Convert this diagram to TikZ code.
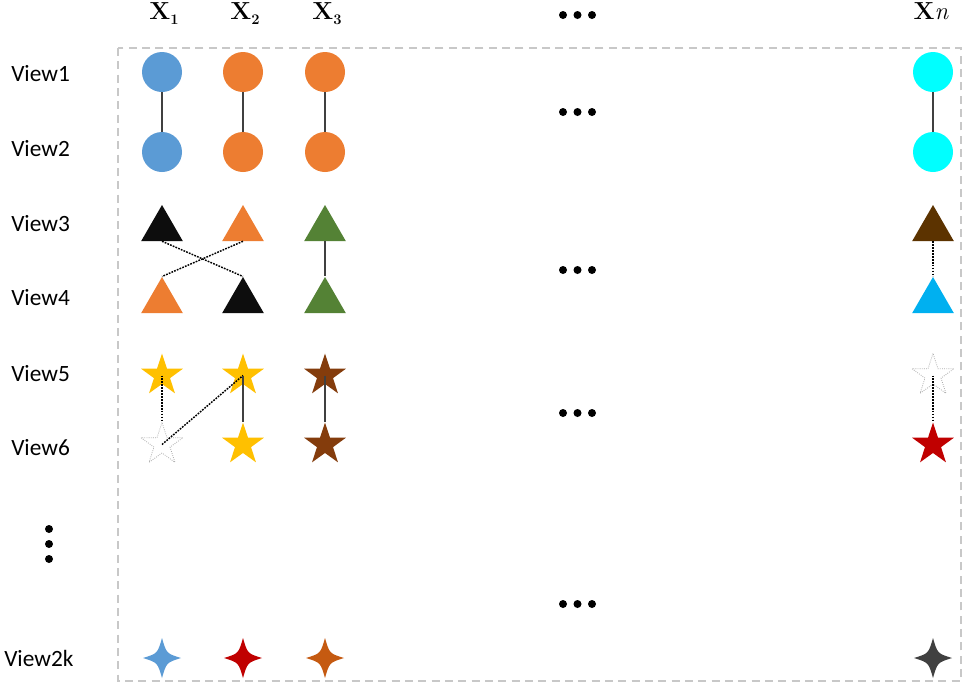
\documentclass[tikz,border=0pt]{standalone}
\usepackage{fontspec}
\newfontfamily\viewfont{Carlito}
\usetikzlibrary{shapes.geometric}
\definecolor{cblue}{HTML}{5B9BD5}
\definecolor{corange}{HTML}{ED7D31}
\definecolor{ccyan}{HTML}{00FFFF}
\definecolor{tblack}{HTML}{0D0D0D}
\definecolor{tgreen}{HTML}{548235}
\definecolor{tbrown}{HTML}{5C3300}
\definecolor{tblue}{HTML}{00B0F0}
\definecolor{syellow}{HTML}{FFC000}
\definecolor{sbrown}{HTML}{843C0C}
\definecolor{sred}{HTML}{C00000}
\definecolor{korange}{HTML}{C55A11}
\definecolor{kgray}{HTML}{404040}
\definecolor{boxgray}{HTML}{C8C8C8}
\newcommand{\hsub}[1]{\raisebox{-3.5pt}{\fontsize{11pt}{11pt}\selectfont #1}}
\tikzset{
  ball/.style={circle, minimum size=30pt, inner sep=0pt, draw=none, fill=#1},
  tri/.style={regular polygon, regular polygon sides=3, minimum size=36pt, inner sep=0pt, draw=none, fill=#1},
  starnode/.style={star, star points=5, star point ratio=2.6, minimum size=33pt, inner sep=0pt, draw=none, fill=#1},
  emptystar/.style={star, star points=5, star point ratio=2.6, minimum size=33pt, inner sep=0pt, draw=gray!65, densely dotted, line width=0.6pt, fill=white},
  solidlink/.style={draw=kgray, line width=0.9pt},
  dotlink/.style={draw=black, line width=1.1pt, dash pattern=on 1.3pt off 0.9pt},
  dotnode/.style={circle, minimum size=6pt, inner sep=0pt, fill=black},
  viewlabel/.style={anchor=base west, inner sep=0pt, font=\viewfont\fontsize{17.5pt}{20pt}\selectfont},
  hdr/.style={anchor=base, inner sep=0pt, font=\fontsize{18.5pt}{20pt}\selectfont\bfseries},
  boxline/.style={draw=boxgray, line width=1.2pt, dash pattern=on 6pt off 4pt},
  sparkle/.pic={\fill[#1] (0,-20) .. controls (4.5,-4.5) .. (19,0) .. controls (4.5,4.5) .. (0,20) .. controls (-4.5,4.5) .. (-19,0) .. controls (-4.5,-4.5) .. cycle;}
}
\begin{document}
\begin{tikzpicture}[x=0.75pt,y=-0.75pt]
\useasboundingbox (0,0) rectangle (967,690);
\fill[white] (0,0) rectangle (967,690);

% dashed frame
\draw[boxline] (118,48) rectangle (961,681);

% headers
\node[hdr] (h1) at (164,19.5) {X\hsub{1}};
\node[hdr] (h2) at (245,19.5) {X\hsub{2}};
\node[hdr] (h3) at (327,19.5) {X\hsub{3}};
\node[hdr] (hn) at (931,19.5) {X\mdseries\itshape n};

% top dots
\node[dotnode] (td1) at (563,15) {};
\node[dotnode] (td2) at (577.5,15) {};
\node[dotnode] (td3) at (592,15) {};

% view labels
\node[viewlabel] (v1) at (11,81.5) {View1};
\node[viewlabel] (v2) at (11,156.5) {View2};
\node[viewlabel] (v3) at (11,231) {View3};
\node[viewlabel] (v4) at (11,305) {View4};
\node[viewlabel] (v5) at (11,381) {View5};
\node[viewlabel] (v6) at (11,455) {View6};
\node[viewlabel] (v2k) at (4,666) {View2k};

% vertical dots
\node[dotnode] (vd1) at (49,529) {};
\node[dotnode] (vd2) at (49,544) {};
\node[dotnode] (vd3) at (49,559) {};

% row dots
\foreach \y/\n in {112/a,270/b,413/c,604/d}{
  \node[dotnode] (rd\n1) at (563,\y) {};
  \node[dotnode] (rd\n2) at (577.5,\y) {};
  \node[dotnode] (rd\n3) at (592,\y) {};
}

% circles
\node[ball=cblue] (c11) at (162,72) {};
\node[ball=corange] (c12) at (243,72) {};
\node[ball=corange] (c13) at (325,72) {};
\node[ball=ccyan] (c1n) at (933,72) {};
\node[ball=cblue] (c21) at (162,152) {};
\node[ball=corange] (c22) at (243,152) {};
\node[ball=corange] (c23) at (325,152) {};
\node[ball=ccyan] (c2n) at (933,152) {};
\draw[solidlink] (c11.south) -- (c21.north);
\draw[solidlink] (c12.south) -- (c22.north);
\draw[solidlink] (c13.south) -- (c23.north);
\draw[solidlink] (c1n.south) -- (c2n.north);

% triangles
\node[tri=tblack] (t31) at (162,229) {};
\node[tri=corange] (t32) at (243,229) {};
\node[tri=tgreen] (t33) at (325,229) {};
\node[tri=tbrown] (t3n) at (933,229) {};
\node[tri=corange] (t41) at (162,301) {};
\node[tri=tblack] (t42) at (243,301) {};
\node[tri=tgreen] (t43) at (325,301) {};
\node[tri=tblue] (t4n) at (933,301) {};
\draw[dotlink] (t31.side 2) -- (t42.corner 1);
\draw[dotlink] (t32.side 2) -- (t41.corner 1);
\draw[solidlink] (t33.side 2) -- (t43.corner 1);
\draw[dotlink] (t3n.side 2) -- (t4n.corner 1);

% stars
\node[starnode=syellow] (s51) at (162,375.5) {};
\node[starnode=syellow] (s52) at (243,375.5) {};
\node[starnode=sbrown] (s53) at (325,375.5) {};
\node[emptystar] (s5n) at (933,375.5) {};
\node[emptystar] (s61) at (162,444.5) {};
\node[starnode=syellow] (s62) at (243,444.5) {};
\node[starnode=sbrown] (s63) at (325,444.5) {};
\node[starnode=sred] (s6n) at (933,444.5) {};
\draw[dotlink] (s51.center) -- (s61.outer point 1);
\draw[dotlink] (s61.center) -- (s52.center);
\draw[solidlink] (s52.center) -- (s62.outer point 1);
\draw[solidlink] (s53.center) -- (s63.outer point 1);
\draw[dotlink] (s5n.center) -- (s6n.outer point 1);

% four-pointed stars
\pic (k1) at (162,658) {sparkle=cblue};
\pic (k2) at (243,658) {sparkle=sred};
\pic (k3) at (325,658) {sparkle=korange};
\pic (kn) at (933,658) {sparkle=kgray};
\end{tikzpicture}
\end{document}
